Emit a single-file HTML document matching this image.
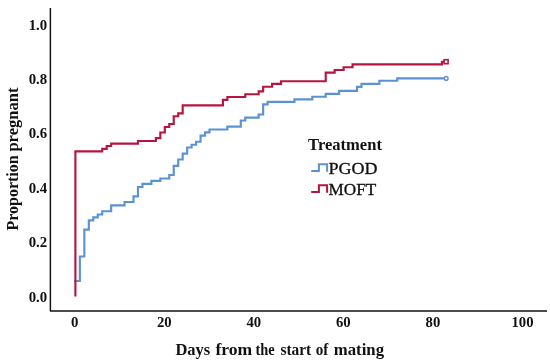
<!DOCTYPE html>
<html><head><meta charset="utf-8"><title>Proportion pregnant</title>
<style>
html,body{margin:0;padding:0;background:#fff;}
svg{display:block;}
text{font-family:"Liberation Serif",serif;fill:#111;}
.b{font-weight:bold;}
.tick{font-size:14px;font-weight:bold;}
</style></head><body>
<svg width="550" height="363" viewBox="0 0 550 363">
<rect width="550" height="363" fill="#fff"/>
<path d="M50.4,8V311H547" fill="none" stroke="#111" stroke-width="1.45" stroke-linejoin="round"/>
<path d="M75.4,282H75.4V281.0H79.87V256.5H84.34V229.6H88.81V220.4H93.28V217.4H97.75V214.5H102.22V211.2H111.16V205.4H124.57V202.0H133.51V196.4H137.98V187.0H142.45V183.9H151.39V180.8H160.33V178.5H169.27V175.0H173.74V165.8H178.21V159.5H182.68V153.6H187.15V147.5H191.62V144.7H196.09V141.7H200.56V135.6H205.03V132.3H209.5V129.5H227.38V126.6H240.79V120.5H245.26V117.6H258.67V114.5H263.14V104.4H267.61V101.8H294.43V99.4H312.31V96.7H325.72V93.9H339.13V90.9H357.01V86.9H361.48V83.9H379.36V80.7H397.24V78.3H446.41" fill="none" stroke="#5b92d4" stroke-width="2.15" stroke-linejoin="miter"/>
<circle cx="446.2" cy="78.4" r="1.85" fill="#fff" stroke="#5b92d4" stroke-width="1.4"/>
<path d="M75.4,296.6H75.4V151.4H102.22V148.8H106.69V146.0H111.16V143.6H137.98V141.0H155.86V138.1H160.33V132.5H164.8V127.0H169.27V124.0H173.74V116.2H178.21V113.3H182.68V105.4H222.91V99.9H227.38V97.0H245.26V94.2H258.67V91.4H263.14V86.7H272.08V83.9H281.02V81.2H325.72V72.6H334.66V70.0H343.6V67.2H352.54V64.3H441.94V61.7H446.41" fill="none" stroke="#b5153e" stroke-width="2.15" stroke-linejoin="miter"/>
<rect x="444.1" y="59.7" width="4" height="4" fill="#fff" stroke="#b5153e" stroke-width="1.6"/>
<g class="tick" text-anchor="end">
<text x="47.2" y="29.5" textLength="18.5" lengthAdjust="spacingAndGlyphs">1.0</text>
<text x="47.2" y="84" textLength="18.5" lengthAdjust="spacingAndGlyphs">0.8</text>
<text x="47.2" y="138.4" textLength="18.5" lengthAdjust="spacingAndGlyphs">0.6</text>
<text x="47.2" y="192.8" textLength="18.5" lengthAdjust="spacingAndGlyphs">0.4</text>
<text x="47.2" y="247.2" textLength="18.5" lengthAdjust="spacingAndGlyphs">0.2</text>
<text x="47.2" y="301.6" textLength="18.5" lengthAdjust="spacingAndGlyphs">0.0</text>
</g>
<g class="tick" text-anchor="middle">
<text x="74.7" y="327" textLength="7.4" lengthAdjust="spacingAndGlyphs">0</text>
<text x="164.3" y="327" textLength="14.7" lengthAdjust="spacingAndGlyphs">20</text>
<text x="253.8" y="327" textLength="14.7" lengthAdjust="spacingAndGlyphs">40</text>
<text x="343.3" y="327" textLength="14.7" lengthAdjust="spacingAndGlyphs">60</text>
<text x="432.9" y="327" textLength="14.7" lengthAdjust="spacingAndGlyphs">80</text>
<text x="522.5" y="327" textLength="22" lengthAdjust="spacingAndGlyphs">100</text>
</g>
<text class="b" y="355" font-size="16"><tspan x="175.4" textLength="34.8" lengthAdjust="spacingAndGlyphs">Days</tspan> <tspan x="215.4" textLength="36.8" lengthAdjust="spacingAndGlyphs">from</tspan> <tspan x="255.4" textLength="19.2" lengthAdjust="spacingAndGlyphs">the</tspan> <tspan x="280.4" textLength="30.8" lengthAdjust="spacingAndGlyphs">start</tspan> <tspan x="315.8" textLength="12.6" lengthAdjust="spacingAndGlyphs">of</tspan> <tspan x="333.8" textLength="50.2" lengthAdjust="spacingAndGlyphs">mating</tspan></text>
<text class="b" transform="translate(17.9,230.6) rotate(-90)" font-size="16"><tspan x="0" textLength="75.3" lengthAdjust="spacingAndGlyphs">Proportion</tspan> <tspan x="79" textLength="64" lengthAdjust="spacingAndGlyphs">pregnant</tspan></text>
<text class="b" x="308.1" y="149.9" font-size="15.8" textLength="73.8" lengthAdjust="spacingAndGlyphs">Treatment</text>
<text x="328.6" y="173.6" font-size="16" stroke="#111" stroke-width="0.3" textLength="49" lengthAdjust="spacingAndGlyphs">PGOD</text>
<text x="328.6" y="194.9" font-size="16" stroke="#111" stroke-width="0.3" textLength="47.7" lengthAdjust="spacingAndGlyphs">MOFT</text>
<path d="M311.2,171.1H318.9V164.3H327.1V171.8" fill="none" stroke="#5b92d4" stroke-width="2"/>
<path d="M311.2,191.9H318.9V185.2H327.1V192.8" fill="none" stroke="#b5153e" stroke-width="2"/>
</svg>
</body></html>
